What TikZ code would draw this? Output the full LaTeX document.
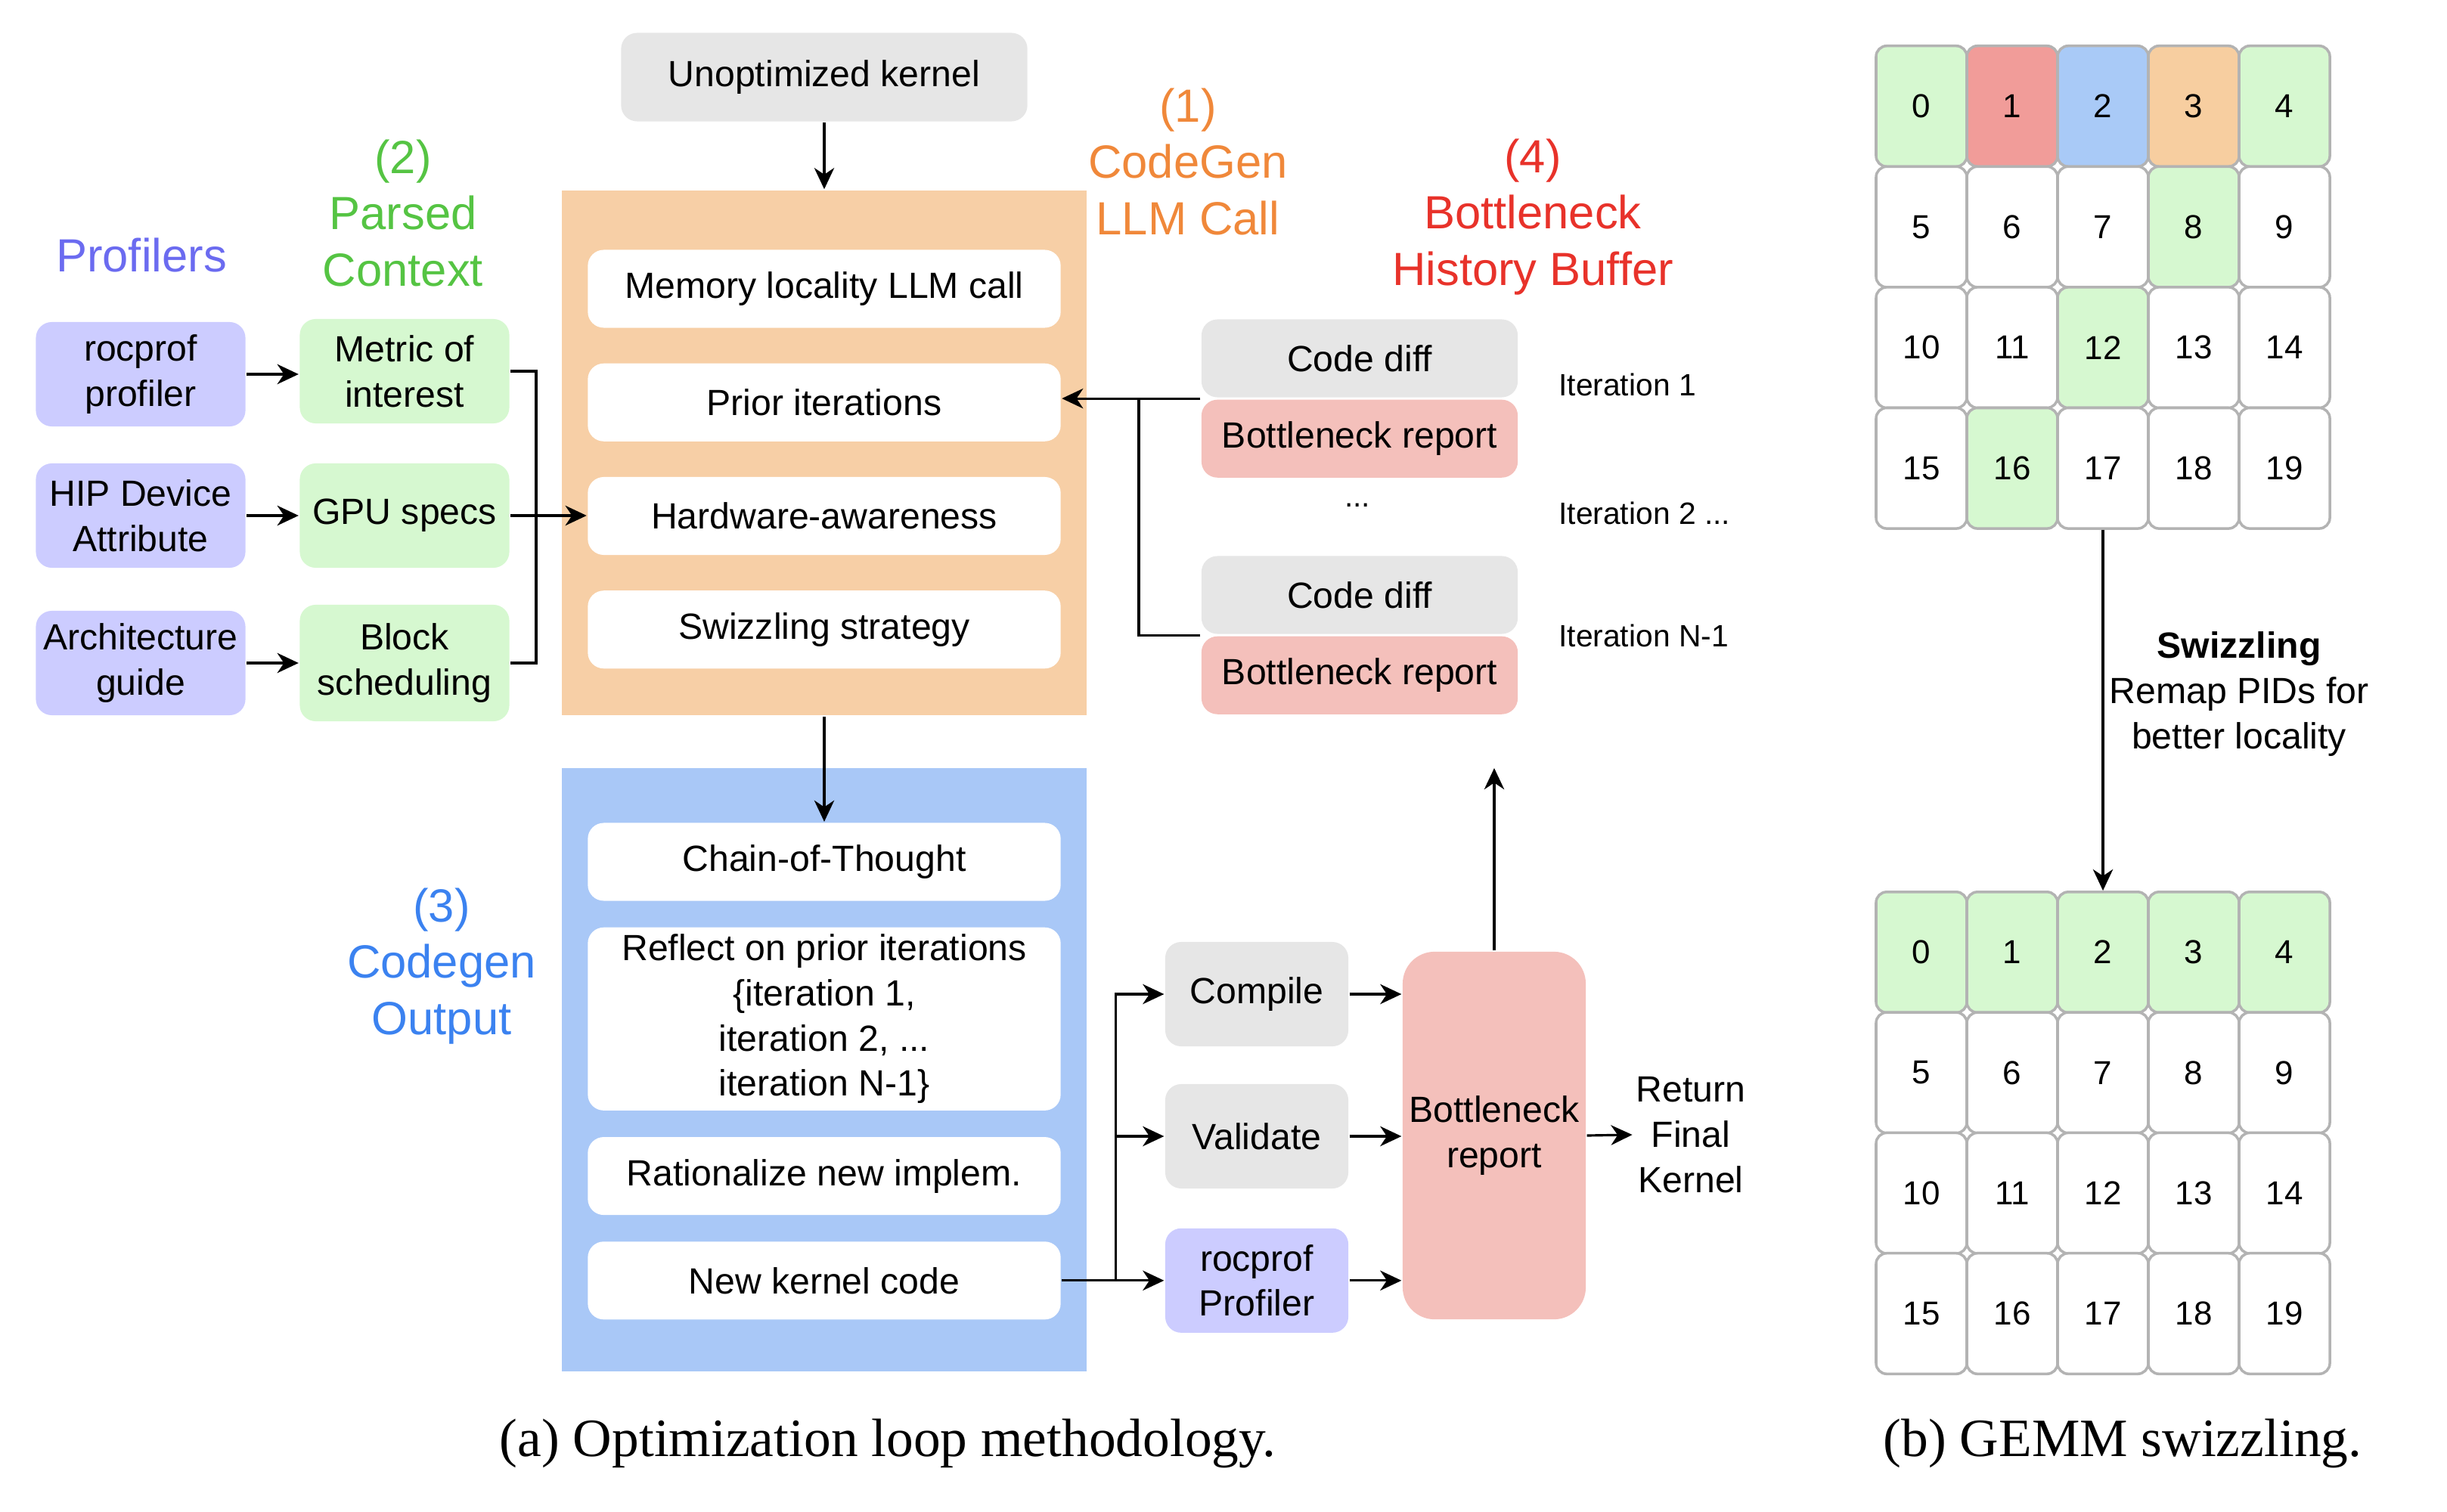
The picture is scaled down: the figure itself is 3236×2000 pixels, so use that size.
\documentclass[tikz,border=0pt]{standalone}
\usepackage{fontspec}
\setmainfont{Liberation Serif}
\setsansfont{Liberation Sans}
\usepackage{xcolor}
\usetikzlibrary{arrows.meta}
\usetikzlibrary{positioning}

\definecolor{profc}{HTML}{CCCCFF}
\definecolor{ctxc}{HTML}{D6F8D0}
\definecolor{llmc}{HTML}{F7CFA6}
\definecolor{outc}{HTML}{A9C8F7}
\definecolor{grayc}{HTML}{E6E6E6}
\definecolor{pinkc}{HTML}{F4C0BB}
\definecolor{gc}{HTML}{D6F8D0}
\definecolor{rc}{HTML}{F19C99}
\definecolor{bc}{HTML}{A9CAF7}
\definecolor{oc}{HTML}{F7CEA0}
\definecolor{cellc}{HTML}{B3B3B3}
\definecolor{proft}{HTML}{6B6BF0}
\definecolor{ctxt}{HTML}{55C443}
\definecolor{llmt}{HTML}{F0883A}
\definecolor{histt}{HTML}{E8322A}
\definecolor{outt}{HTML}{3B82F0}

\begin{document}
\begin{tikzpicture}[x=0.01cm, y=-0.01cm, line width=0.9pt,
    font=\sffamily\fontsize{13.7}{17}\selectfont,
    box/.style={rounded corners=6pt, align=center, inner sep=1pt},
    prof/.style={box, fill=profc, minimum width=2.77cm, minimum height=1.38cm},
    ctx/.style={box, fill=ctxc, minimum width=2.77cm, minimum height=1.38cm},
    inbox/.style={box, fill=white, minimum width=6.25cm, minimum height=1.03cm},
    hist/.style={box, minimum width=4.18cm, minimum height=1.03cm},
    chk/.style={box, fill=grayc, minimum width=2.42cm, minimum height=1.38cm},
    title/.style={align=center, font=\sffamily\fontsize{17.5}{21.3}\selectfont},
    small/.style={font=\sffamily\fontsize{11.6}{13}\selectfont},
    cell/.style={draw=cellc, line width=1pt, rounded corners=4pt, inner sep=0pt,
      minimum width=1.2cm, minimum height=1.595cm, font=\sffamily\fontsize{12.5}{15}\selectfont},
    arr/.style={-{Stealth[length=8pt, width=7.5pt, inset=2.5pt]}}]
    \useasboundingbox (0,0) rectangle (3236,2000);

    % (a) optimization loop
    \node[title, text=proft] (pt) at (187,338) {Profilers};
    \node[title, text=ctxt] (ct) at (533,282) {(2)\\Parsed\\Context};
    \node[title, text=llmt] (lt) at (1571,214) {(1)\\CodeGen\\LLM Call};
    \node[title, text=histt] (ht) at (2027,287) {(4)\\Bottleneck\\History Buffer};
    \node[title, text=outt] (ot) at (584,1278) {(3)\\Codegen\\Output};

    \node[prof] (rp) at (186,495) {rocprof\\profiler};
    \node[prof] (hip) at (186,682) {HIP Device\\Attribute};
    \node[prof] (arch) at (186,877) {Architecture\\guide};
    \node[ctx] (met) at (535,491) {Metric of\\interest};
    \node[ctx] (gpu) at (535,682) {GPU specs};
    \node[ctx, minimum height=1.54cm] (blk) at (535,877) {Block\\scheduling};

    \node[box, fill=grayc, minimum width=5.37cm, minimum height=1.17cm] (uk) at (1090,102) {Unoptimized kernel};

    \node[fill=llmc, minimum width=6.94cm, minimum height=6.94cm] (llm) at (1090,599) {};
    \node[inbox] (mem) at (1090,382) {Memory locality LLM call};
    \node[inbox, below=0.44cm of mem] (pri) {Prior iterations};
    \node[inbox, below=0.44cm of pri] (hw) {Hardware-awareness};
    \node[inbox, below=0.44cm of hw] (swz) {Swizzling strategy};

    \node[fill=outc, minimum width=6.93cm, minimum height=7.97cm] (out) at (1090,1415) {};
    \node[inbox] (cot) at (1090,1140) {Chain-of-Thought};
    \node[inbox, minimum height=2.42cm, below=0.32cm of cot] (ref) {Reflect on prior iterations\\\{iteration 1,\\iteration 2, ...\\iteration N-1\}};
    \node[inbox, below=0.32cm of ref] (rat) {Rationalize new implem.};
    \node[inbox, below=0.32cm of rat] (nk) {New kernel code};

    \node[hist, fill=grayc] (cd1) at (1798,474) {Code diff};
    \node[hist, fill=pinkc, below=0pt of cd1] (br1) {Bottleneck report};
    \node[small] (dots) at (1795,668) {...};
    \node[hist, fill=grayc] (cd2) at (1798,787) {Code diff};
    \node[hist, fill=pinkc, below=0pt of cd2] (br2) {Bottleneck report};
    \node[small, anchor=west] (it1) at (2048,509) {Iteration 1};
    \node[small, anchor=west] (it2) at (2048,679) {Iteration 2 ...};
    \node[small, anchor=west] (it3) at (2048,841) {Iteration N-1};

    \node[chk] (cmp) at (1662,1315) {Compile};
    \node[chk] (val) at (1662,1503) {Validate};
    \node[chk, fill=profc] (rpp) at (nk.east -| 1662,0) {rocprof\\Profiler};
    \node[box, rounded corners=12pt, fill=pinkc, minimum width=2.42cm, minimum height=4.86cm] (bbr) at (1976,1502) {Bottleneck\\report};
    \node[align=center, inner sep=1pt] (ret) at (2236,1501) {Return\\Final\\Kernel};
    \coordinate (up) at (1976,1016);

    \draw[arr] (rp.east) -- (rp.east -| met.west);
    \draw[arr] (hip) -- (gpu);
    \draw[arr] (arch) -- (blk);
    \coordinate (cb) at (709,682);
    \draw (met.east) -| (cb) |- (blk.east);
    \draw[arr] (gpu.east) -- (gpu.east -| hw.west);

    \draw[arr] (uk) -- (llm);
    \draw[arr] (llm.south) -- (cot.north);

    \coordinate (hb) at (1506,526);
    \draw (cd2.south west) -| (hb);
    \draw[arr] (cd1.south west) -- (cd1.south west -| pri.east);

    \coordinate (fo) at ([xshift=0.71cm]nk.east);
    \draw[arr] (nk.east) -- (rpp.west);
    \draw[arr] (fo) |- (cmp.west);
    \draw[arr] (fo) |- (val.west);
    \draw[arr] (cmp.east) -- (cmp.east -| bbr.west);
    \draw[arr] (val.east) -- (val.east -| bbr.west);
    \draw[arr] (rpp.east) -- (rpp.east -| bbr.west);
    \draw[arr] (bbr.north) -- (up);
    \draw[arr] (bbr.east) -- (ret.west);

    % (b) swizzling grid
    \def\topfill{{"gc","rc","bc","oc","gc","white","white","white","gc","white","white","white","gc","white","white","white","gc","white","white","white"}}
    \foreach \n in {0,...,19}{
      \pgfmathtruncatemacro\c{mod(\n,5)}
      \pgfmathtruncatemacro\r{floor(\n/5)}
      \pgfmathparse{\topfill[\n]}\edef\f{\pgfmathresult}
      \ifnum\n<5 \def\g{gc}\else\def\g{white}\fi
      \node[cell, fill=\f] (t\n) at (2541+120*\c, 140.5+159.6*\r) {\n};
      \node[cell, fill=\g] (b\n) at (2541+120*\c, 1259.6+159.3*\r) {\n};
    }
    \draw[arr] (t17.south) -- (b2.north);
    \node[align=center] (sw) at (2961,918) {\textbf{Swizzling}\\Remap PIDs for\\better locality};

    \node[font=\rmfamily\fontsize{20.3}{24}\selectfont] (capa) at (1174,1909) {(a) Optimization loop methodology.};
    \node[font=\rmfamily\fontsize{20.3}{24}\selectfont] (capb) at (2807,1909) {(b) GEMM swizzling.};
\end{tikzpicture}
\end{document}
